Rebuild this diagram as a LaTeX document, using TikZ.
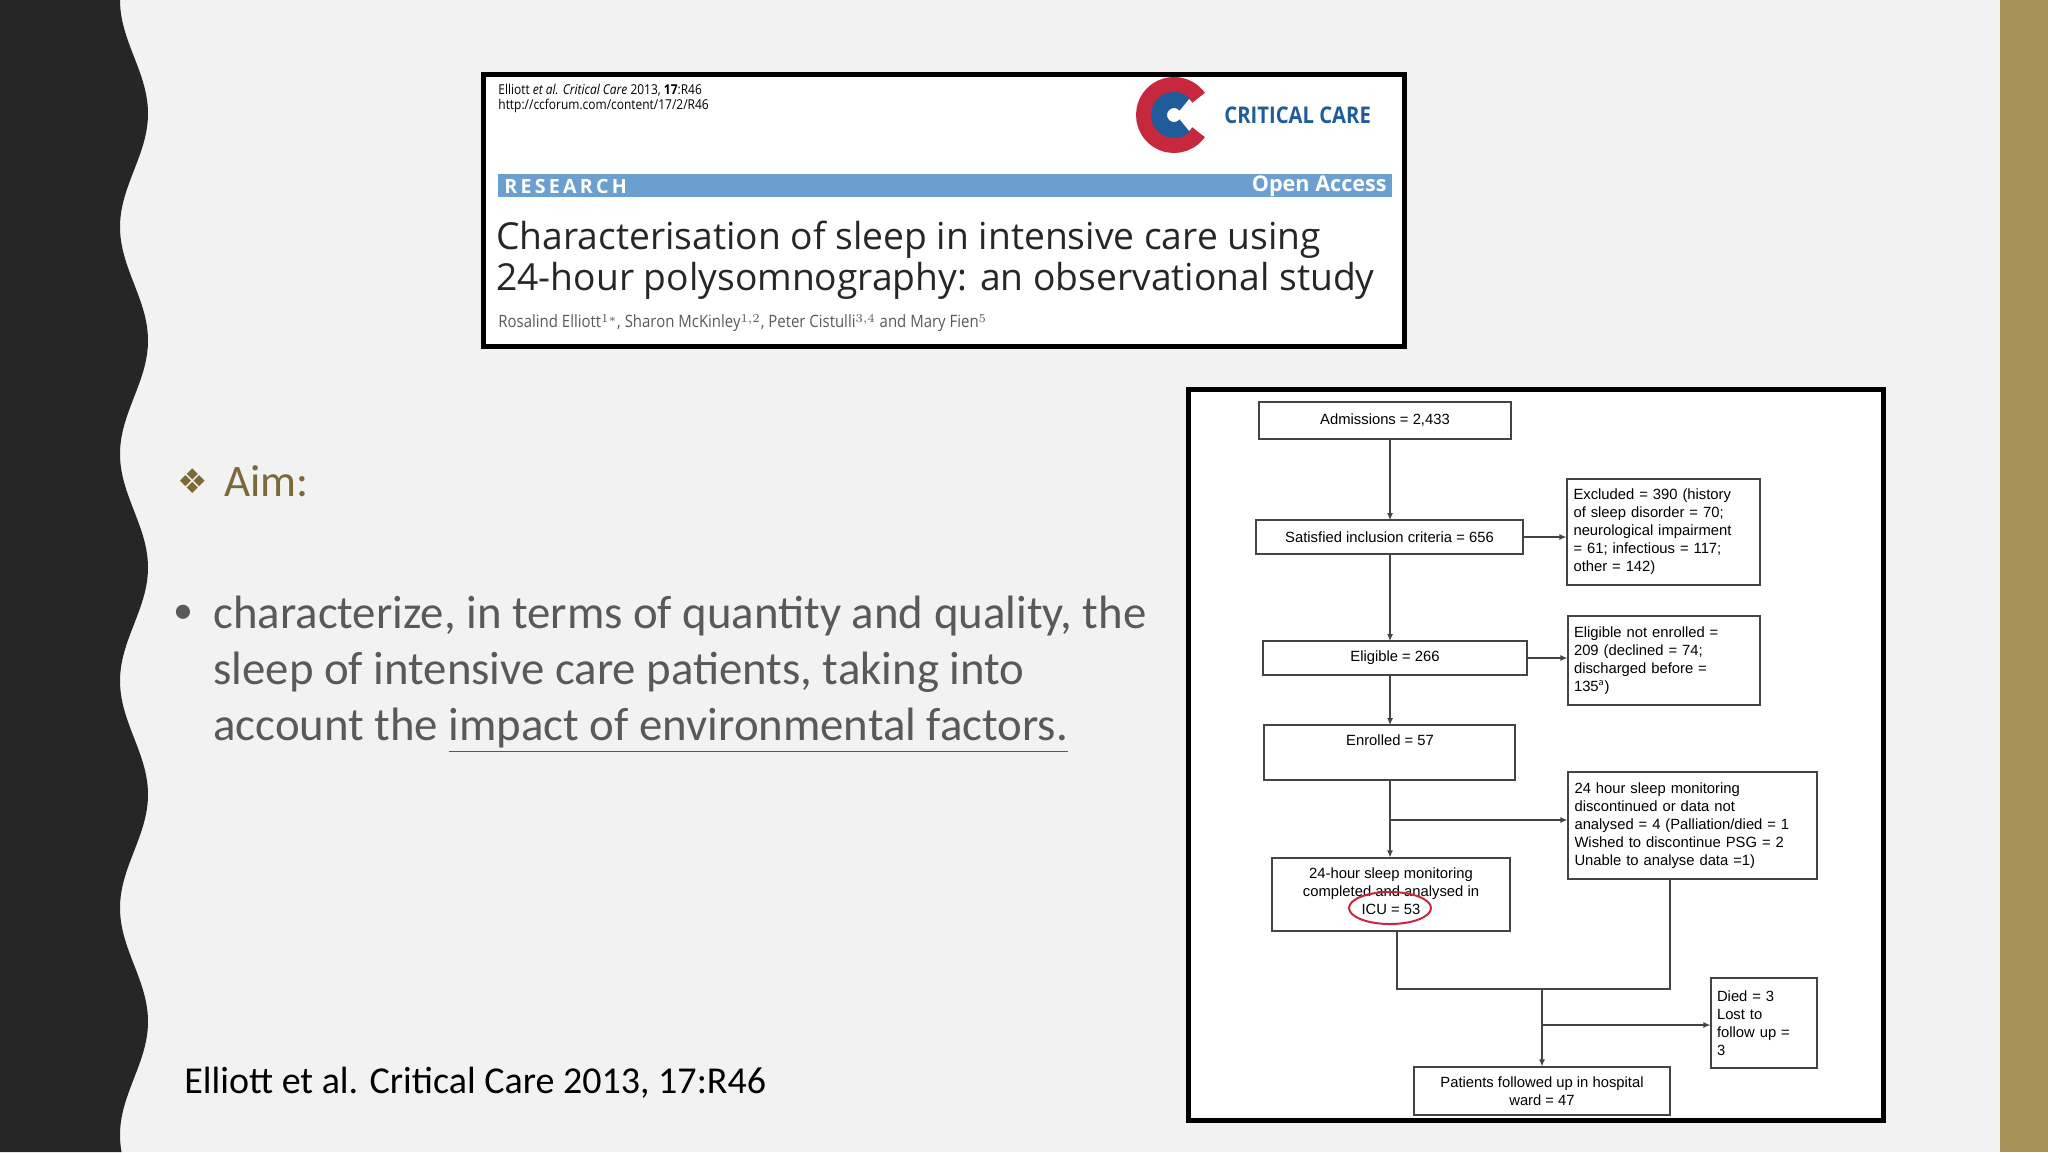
\documentclass[tikz,border=0pt]{standalone}
\usepackage{fontspec}
\setmainfont{Carlito}
\newfontfamily\flowfont{Liberation Sans}
\newfontfamily\hdrfont{Open Sans}
\newfontfamily\hdrcond[FakeStretch=0.88]{Open Sans}
\newfontfamily\symfont{DejaVu Sans}
\usetikzlibrary{arrows.meta}
\definecolor{bg}{HTML}{F2F2F2}
\definecolor{darkband}{HTML}{262626}
\definecolor{goldband}{HTML}{A39158}
\definecolor{olive}{HTML}{7A6A3A}
\definecolor{bodygray}{HTML}{595959}
\definecolor{resblue}{HTML}{6A9FD0}
\definecolor{ccblue}{HTML}{1F5C99}
\definecolor{ccred}{HTML}{C8283E}
\definecolor{flowline}{HTML}{444444}
\tikzset{
  fbox/.style={draw=flowline, line width=0.6pt, fill=white, inner sep=2pt, font=\flowfont\fontsize{7.4}{9}\selectfont, align=center},
  fleft/.style={fbox, align=left},
  ftxt/.style={inner sep=0pt, font=\flowfont\fontsize{7.4}{9}\selectfont, align=center},
  conn/.style={draw=flowline, line width=0.6pt},
  arr/.style={conn, -{Latex[length=3.5pt,width=3pt]}},
}
\begin{document}
\begin{tikzpicture}[x=0.5pt,y=-0.5pt]
\useasboundingbox (0,0) rectangle (2048,1152);
\fill[bg] (0,0) rectangle (2048,1152);
\fill[darkband] (0,0) -- plot[domain=0:1152,samples=240] ({134-14*cos(1.5859*\x)},\x) -- (0,1152) -- cycle;
\fill[goldband] (2000,0) rectangle (2048,1152);

% header card
\draw[fill=white, line width=2.5pt] (483,74) rectangle (1404,346);
\node[anchor=west, inner sep=0pt, font=\hdrcond\fontsize{6.8}{8}\selectfont] (cite1) at (498,90) {Elliott \textit{et al. Critical Care} 2013, \textbf{17}:R46};
\node[anchor=west, inner sep=0pt, font=\hdrcond\fontsize{6.8}{8}\selectfont] (cite2) at (498,106) {http://ccforum.com/content/17/2/R46};
\draw[ccred, line width=8pt] (1174,115) ++(35:30) arc[start angle=35, end angle=325, radius=30];
\draw[ccblue, line width=8pt] (1174,115) ++(45:15) arc[start angle=45, end angle=315, radius=15];
\node[anchor=west, inner sep=0pt, text=ccblue, font=\hdrcond\bfseries\fontsize{11.5}{13}\selectfont] (cc) at (1224,115) {CRITICAL CARE};
\fill[resblue] (498,174) rectangle (1392,197);
\node[anchor=west, inner sep=0pt, text=white, font=\hdrfont\bfseries\fontsize{9.8}{11}\selectfont] (res) at (504,186) {R\,E\,S\,E\,A\,R\,C\,H};
\node[anchor=east, inner sep=0pt, text=white, font=\hdrfont\bfseries\fontsize{10.8}{11}\selectfont] (oa) at (1387,186) {Open Access};
\node[anchor=west, inner sep=0pt, text=black!85, font=\hdrfont\fontsize{18.6}{20}\selectfont] (t1) at (496,240) {Characterisation of sleep in intensive care using};
\node[anchor=west, inner sep=0pt, text=black!85, font=\hdrfont\fontsize{18.6}{20}\selectfont] (t2) at (496,281) {24-hour polysomnography: an observational study};
\node[anchor=west, inner sep=0pt, text=black!65, font=\hdrcond\fontsize{8.5}{9}\selectfont] (auth) at (498,323) {Rosalind Elliott$^{1*}$, Sharon McKinley$^{1,2}$, Peter Cistulli$^{3,4}$ and Mary Fien$^{5}$};

% left text
\node[anchor=center, inner sep=0pt, text=olive, font=\symfont\fontsize{17}{18}\selectfont] (dia) at (193,481) {❖};
\node[anchor=west, inner sep=0pt, text=olive, font=\fontsize{22.5}{26}\selectfont] (aim) at (224,481) {Aim:};
\node[anchor=center, inner sep=0pt, text=bodygray, font=\fontsize{20}{28}\selectfont] (bul) at (183,614) {•};
\node[anchor=north west, inner sep=0pt, text=bodygray, align=left, font=\fontsize{23.4}{28}\selectfont] (body) at (213,596) {characterize, in terms of quantity and quality, the\\ sleep of intensive care patients, taking into\\ account the \underline{impact of environmental factors.}};
\node[anchor=west, inner sep=0pt, text=black, font=\fontsize{19}{22}\selectfont] (ref) at (184,1083) {Elliott et al. Critical Care 2013, 17:R46};

% flowchart frame
\draw[fill=white, line width=2.5pt] (1188,389) rectangle (1883,1120);
\node[fbox, minimum width=126pt, minimum height=18.5pt] (adm) at (1385,420.5) {Admissions = 2,433};
\node[fbox, minimum width=133.5pt, minimum height=17pt] (sat) at (1389.5,537) {Satisfied inclusion criteria = 656};
\node[fleft, minimum width=96.5pt, minimum height=53pt, text width=90pt] (exc) at (1663.5,532) {Excluded = 390 (history\\ of sleep disorder = 70;\\ neurological impairment\\ = 61; infectious = 117;\\ other = 142)};
\node[fbox, minimum width=132pt, minimum height=17pt] (eli) at (1395,658) {Eligible = 266};
\node[fleft, minimum width=96pt, minimum height=44.5pt, text width=90pt] (ene) at (1664,660.5) {Eligible not enrolled =\\ 209 (declined = 74;\\ discharged before =\\ 135$^{\mathrm{a}}$)};
\node[fbox, minimum width=125.5pt, minimum height=27.5pt] (enr) at (1389.5,752.5) {};
\node[ftxt] (enrt) at (1390,740) {Enrolled = 57};
\node[fleft, minimum width=124.5pt, minimum height=53.5pt, text width=118pt] (dis) at (1692.5,825.5) {24 hour sleep monitoring\\ discontinued or data not\\ analysed = 4 (Palliation/died = 1\\ Wished to discontinue PSG = 2\\ Unable to analyse data =1)\\[2pt]};
\node[fbox, minimum width=119pt, minimum height=36.5pt] (cmp) at (1391,894.5) {};
\node[ftxt] (cmpt) at (1391,891) {24-hour sleep monitoring\\ completed and analysed in\\ ICU = 53};
\draw[ccred, line width=1pt] (1390,908) ellipse[x radius=41, y radius=16];
\node[fleft, minimum width=53pt, minimum height=45pt, text width=47pt] (died) at (1764,1023) {Died = 3\\ Lost to\\ follow up =\\ 3};
\node[fbox, minimum width=128pt, minimum height=24pt] (pat) at (1542,1091) {Patients followed up in hospital\\ ward = 47};

\coordinate (b1) at (1390,820);
\coordinate (c1) at (1397,931);
\coordinate (c2) at (1397,989);
\coordinate (c3) at (1670,989);
\coordinate (c4) at (1670,879);
\coordinate (m1) at (1542,989);
\coordinate (b2) at (1542,1025);

\draw[arr] (1390,439) -- (1390,520);
\draw[arr] (sat.east) -- (sat.east -| exc.west);
\draw[arr] (1390,554) -- (1390,641);
\draw[arr] (eli.east) -- (eli.east -| ene.west);
\draw[arr] (1390,675) -- (1390,725);
\draw[arr] (1390,780) -- (cmp.north -| b1);
\draw[arr] (b1) -- (b1 -| dis.west);
\draw[conn] (c1) -- (c2) -- (c3) -- (c4);
\draw[arr] (m1) -- (pat.north);
\draw[arr] (b2) -- (b2 -| died.west);
\end{tikzpicture}
\end{document}
